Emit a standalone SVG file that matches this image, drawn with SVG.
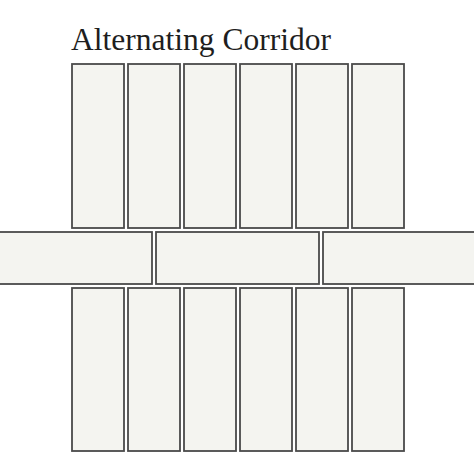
<svg xmlns="http://www.w3.org/2000/svg" width="474" height="474" viewBox="0 0 474 474">
<style>
.room{fill:#f4f4f0;stroke:#4a4a4a;stroke-width:1.8}
.title{font-family:"Liberation Serif","DejaVu Serif",serif;font-size:31px;fill:#1e1e1e}
</style>
<rect width="474" height="474" fill="#ffffff"/>
<text class="title" x="71" y="50" textLength="260" lengthAdjust="spacingAndGlyphs">Alternating Corridor</text>
<g id="top-rooms">
<g id="t1"><rect class="room" x="72" y="64" width="52" height="164"/></g>
<g id="t2"><rect class="room" x="128" y="64" width="52" height="164"/></g>
<g id="t3"><rect class="room" x="184" y="64" width="52" height="164"/></g>
<g id="t4"><rect class="room" x="240" y="64" width="52" height="164"/></g>
<g id="t5"><rect class="room" x="296" y="64" width="52" height="164"/></g>
<g id="t6"><rect class="room" x="352" y="64" width="52" height="164"/></g>
</g>
<g id="corridor">
<g id="c1"><rect class="room" x="-11" y="232" width="163" height="52"/></g>
<g id="c2"><rect class="room" x="156" y="232" width="163" height="52"/></g>
<g id="c3"><rect class="room" x="323" y="232" width="163" height="52"/></g>
</g>
<g id="bottom-rooms">
<g id="b1"><rect class="room" x="72" y="288" width="52" height="163"/></g>
<g id="b2"><rect class="room" x="128" y="288" width="52" height="163"/></g>
<g id="b3"><rect class="room" x="184" y="288" width="52" height="163"/></g>
<g id="b4"><rect class="room" x="240" y="288" width="52" height="163"/></g>
<g id="b5"><rect class="room" x="296" y="288" width="52" height="163"/></g>
<g id="b6"><rect class="room" x="352" y="288" width="52" height="163"/></g>
</g>
<g id="connectors"></g>
</svg>
